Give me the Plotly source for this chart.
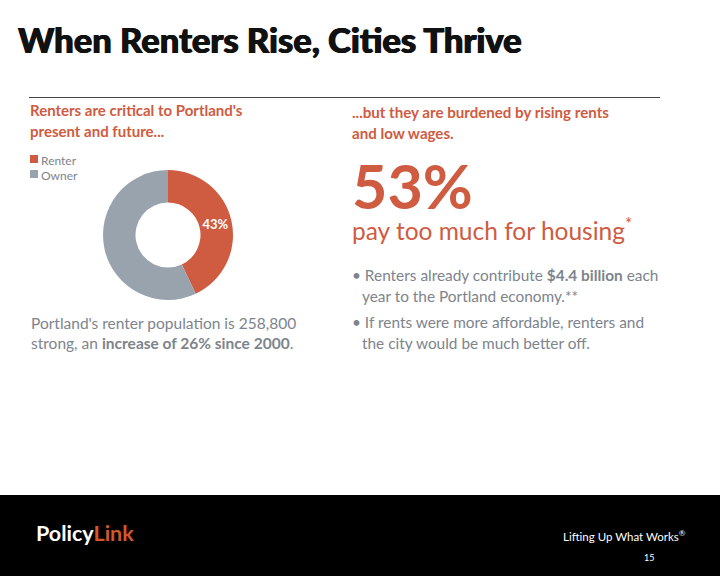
import plotly.graph_objects as go

W, H = 720, 576
FONT = "Lato"
RED = "#cf5b41"
GREY = "#99a3ae"
TEXT = "#7d848c"

labels = ["Renter", "Owner"]
shares = [43, 57]
share_text = ["43%", ""]
slice_colors = [RED, GREY]


def px(x):
    return x / W


def py(y):
    return 1 - y / H


def label(x, y, text, size, color, weight=None, shadow=None):
    font = dict(family=FONT, size=size, color=color)
    if weight:
        font["weight"] = weight
    if shadow:
        font["shadow"] = shadow
    return dict(x=px(x), y=py(y), xref="paper", yref="paper", text=text, showarrow=False,
                xanchor="left", yanchor="middle", align="left", font=font, borderpad=0)


fig = go.Figure(go.Pie(
    labels=labels,
    values=shares,
    text=share_text,
    textinfo="text",
    textposition="inside",
    insidetextorientation="horizontal",
    textfont=dict(family=FONT, size=13, color="white", weight=700),
    marker=dict(colors=slice_colors, line=dict(width=0)),
    hole=0.5,
    sort=False,
    direction="clockwise",
    rotation=0,
    showlegend=False,
    domain=dict(x=[px(103), px(233)], y=[py(300), py(170)]),
))

shapes = [
    dict(type="rect", xref="paper", yref="paper", x0=0, x1=1, y0=0, y1=py(495),
         fillcolor="black", line_width=0),
    dict(type="line", xref="paper", yref="paper", x0=px(29), x1=px(660), y0=py(97.5), y1=py(97.5),
         line=dict(color="#444444", width=1)),
]
for i, c in enumerate(slice_colors):
    top = 155 + i * 15
    shapes.append(dict(type="rect", xref="paper", yref="paper", x0=px(30), x1=px(38),
                       y0=py(top + 8), y1=py(top), fillcolor=c, line_width=0))

# thickens the title, Lato Black is not installed
TITLE_SHADOW = "0.6px 0 0 #111111, -0.6px 0 0 #111111"

notes = [
    label(17, 39, "When Renters Rise, Cities Thrive", 34.5, "#111111", 900, TITLE_SHADOW),
    label(29, 110, "Renters are critical to Portland's", 15, RED, 700),
    label(29, 131, "present and future...", 15, RED, 700),
    label(40, 160, labels[0], 12, TEXT),
    label(40, 175, labels[1], 12, TEXT),
    label(30, 323, "Portland's renter population is 258,800", 15.5, TEXT),
    label(30, 343, "strong, an <b>increase of 26% since 2000</b>.", 15.5, TEXT),
    label(351, 112, "...but they are burdened by rising rents", 15.1, RED, 700),
    label(351, 133, "and low wages.", 15.1, RED, 700),
    label(351, 185, "53%", 61, RED, 700),
    label(351, 229, "pay too much for housing<sup>*</sup>", 24.5, RED),
    label(351, 275, "• Renters already contribute <b>$4.4 billion</b> each", 15.4, TEXT),
    label(361, 296, "year to the Portland economy.**", 15.4, TEXT),
    label(351, 322, "• If rents were more affordable, renters and", 15.4, TEXT),
    label(361, 343, "the city would be much better off.", 15.4, TEXT),
    label(35, 533, '<b>Policy<span style="color:#d2572c">Link</span></b>', 21.5, "white", 700),
    label(562, 535, "Lifting Up What Works<sup>®</sup>", 11.5, "white"),
    label(643, 557, "15", 9, "white"),
]

fig.update_layout(
    width=W,
    height=H,
    margin=dict(l=0, r=0, t=0, b=0),
    paper_bgcolor="white",
    plot_bgcolor="white",
    shapes=shapes,
    annotations=notes,
)

# page has a default 8px body margin, drop it so the slide fills the window
fig.write_html("out.html", config=dict(displayModeBar=False),
               post_script="document.body.style.margin = '0';")
